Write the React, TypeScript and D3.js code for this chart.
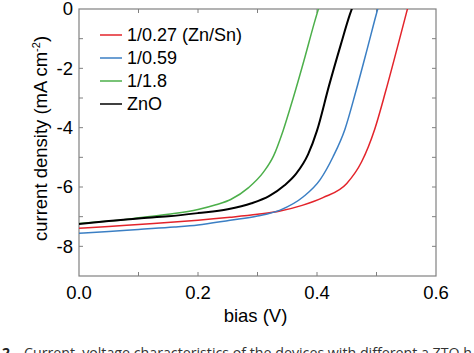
import React from "react";
import * as d3 from "d3";

// J-V curves: [bias (V), current density (mA cm-2)]
const seriesNames = ["1/0.27 (Zn/Sn)", "1/0.59", "1/1.8", "ZnO"];
const seriesColors = ["#e3242b", "#3b7fc4", "#4caf4a", "#000000"];

const red027: [number, number][] = [
  [0, -7.39], [0.05, -7.33], [0.1, -7.26], [0.16, -7.18], [0.2, -7.12], [0.254, -7.02],
  [0.3, -6.92], [0.338, -6.81], [0.375, -6.62], [0.41, -6.36], [0.45, -5.88], [0.475, -5.15],
  [0.497, -4.05], [0.515, -2.8], [0.535, -1.3], [0.552, 0], [0.565, 1],
];
const blue059: [number, number][] = [
  [0, -7.56], [0.05, -7.5], [0.1, -7.43], [0.16, -7.35], [0.2, -7.28], [0.254, -7.12],
  [0.3, -6.98], [0.338, -6.78], [0.377, -6.33], [0.405, -5.76], [0.427, -4.98], [0.447, -4.05],
  [0.465, -2.8], [0.485, -1.3], [0.5, -0.15], [0.515, 0.9],
];
const green18: [number, number][] = [
  [0, -7.23], [0.05, -7.15], [0.1, -7.04], [0.15, -6.92], [0.2, -6.76], [0.23, -6.6],
  [0.255, -6.42], [0.285, -6.02], [0.31, -5.5], [0.327, -4.95], [0.343, -4.1], [0.36, -3.0],
  [0.38, -1.6], [0.395, -0.5], [0.41, 0.5],
];
const blackZnO: [number, number][] = [
  [0, -7.25], [0.05, -7.15], [0.1, -7.06], [0.15, -6.99], [0.2, -6.88], [0.25, -6.75],
  [0.29, -6.55], [0.32, -6.3], [0.345, -5.95], [0.365, -5.55], [0.385, -4.9], [0.4, -4.1],
  [0.42, -2.6], [0.44, -1.2], [0.455, -0.2], [0.47, 0.6],
];
const seriesData = [red027, blue059, green18, blackZnO];

const xLabelTicks = [0, 0.2, 0.4, 0.6];
const xMinorTicks = [0.1, 0.2, 0.3, 0.4, 0.5];
const yLabelTicks = [0, -2, -4, -6, -8];
const yMinorTicks = [-1, -2, -3, -4, -5, -6, -7, -8];

const W = 474;
const H = 353;
const margin = { left: 79, right: 38, top: 9, bottom: 77 };

export default function App() {
  const x = d3.scaleLinear().domain([0, 0.6]).range([margin.left, W - margin.right]);
  const y = d3.scaleLinear().domain([-9, 0]).range([H - margin.bottom, margin.top]);
  const line = d3
    .line<[number, number]>()
    .x((d) => x(d[0]))
    .y((d) => y(d[1]))
    .curve(d3.curveMonotoneX);

  const x0 = x(0), x1 = x(0.6), y0 = y(-9), y1 = y(0);
  const font = "Liberation Sans, Arial, sans-serif";
  const axisColor = "#808080";
  const tick = 4;

  return (
    <svg
      width={W}
      height={H}
      style={{ position: "absolute", left: 0, top: 0, background: "#fff" }}
      fontFamily={font}
    >
      <defs>
        <clipPath id="plot">
          <rect x={x0} y={y1} width={x1 - x0} height={y0 - y1} />
        </clipPath>
      </defs>

      {/* frame */}
      <rect x={x0} y={y1} width={x1 - x0} height={y0 - y1} fill="none" stroke={axisColor} strokeWidth={1.2} />

      {/* inward ticks on all four sides */}
      {xMinorTicks.map((t) => (
        <g key={"xt" + t} stroke={axisColor} strokeWidth={1}>
          <line x1={x(t)} x2={x(t)} y1={y0} y2={y0 - tick} />
          <line x1={x(t)} x2={x(t)} y1={y1} y2={y1 + tick} />
        </g>
      ))}
      {yMinorTicks.map((t) => (
        <g key={"yt" + t} stroke={axisColor} strokeWidth={1}>
          <line x1={x0} x2={x0 + tick} y1={y(t)} y2={y(t)} />
          <line x1={x1} x2={x1 - tick} y1={y(t)} y2={y(t)} />
        </g>
      ))}

      {/* tick labels */}
      {xLabelTicks.map((t) => (
        <text key={"xl" + t} x={x(t)} y={y0 + 23} textAnchor="middle" fontSize={18.5} fill="#000">
          {t.toFixed(1)}
        </text>
      ))}
      {yLabelTicks.map((t) => (
        <text key={"yl" + t} x={x0 - 6} y={y(t)} dy="0.35em" textAnchor="end" fontSize={18.5} fill="#000">
          {t === 0 ? "0" : "-" + Math.abs(t)}
        </text>
      ))}

      {/* axis titles */}
      <text x={(x0 + x1) / 2 - 2} y={y0 + 46} textAnchor="middle" fontSize={18.5} fill="#000">
        bias (V)
      </text>
      <text
        transform={`translate(47, ${(y0 + y1) / 2 - 4}) rotate(-90)`}
        textAnchor="middle"
        fontSize={18.5}
        fill="#000"
      >
        current density (mA cm
        <tspan dy={-7} fontSize={11}>-2</tspan>
        <tspan dy={7}>)</tspan>
      </text>

      {/* curves */}
      <g clipPath="url(#plot)">
        {seriesData.map((d, i) => (
          <path
            key={seriesNames[i]}
            d={line(d) || ""}
            fill="none"
            stroke={seriesColors[i]}
            strokeWidth={i === 3 ? 2 : 1.5}
          />
        ))}
      </g>

      {/* legend */}
      {seriesNames.map((name, i) => (
        <g key={"lg" + name} transform={`translate(100, ${35 + i * 23})`}>
          <line x1={0} x2={22} y1={0} y2={0} stroke={seriesColors[i]} strokeWidth={1.5} />
          <text x={27} y={0} dy="0.35em" fontSize={18} fill="#000">
            {name}
          </text>
        </g>
      ))}

      {/* figure caption, cut by the picture edge */}
      <text x={2} y={358} fontSize={14} fontWeight="bold" fill="#222" fontFamily="Open Sans, sans-serif">
        2
      </text>
      <text
        x={24}
        y={358}
        fontSize={14}
        fill="#333"
        fontFamily="Open Sans, sans-serif"
        textLength={448}
        lengthAdjust="spacingAndGlyphs"
      >
        Current–voltage characteristics of the devices with different a ZTO h
      </text>
    </svg>
  );
}
